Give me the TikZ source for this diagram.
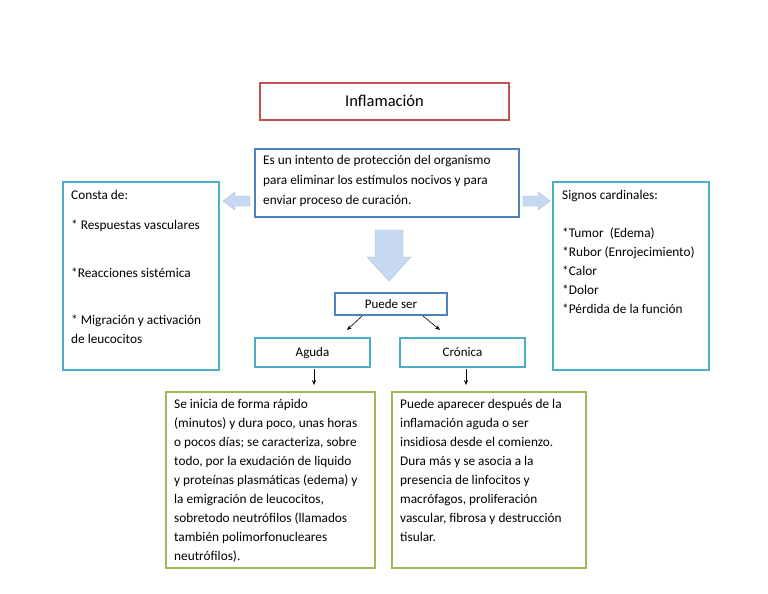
\documentclass[tikz,border=0pt]{standalone}
\usepackage{fontspec}
\setmainfont{Carlito}
\usetikzlibrary{arrows.meta,shapes.arrows}
\definecolor{cred}{HTML}{C0504D}
\definecolor{cblue}{HTML}{4F81BD}
\definecolor{cteal}{HTML}{4BACC6}
\definecolor{cgreen}{HTML}{9BBB59}
\definecolor{carrow}{HTML}{C6D9F1}
\definecolor{carrowd}{HTML}{A7BFDE}
\begin{document}
\begin{tikzpicture}[x=1pt,y=-1pt,
  box/.style={line width=2pt,fill=white},
  txt/.style={font=\fontsize{13.3}{19}\selectfont,align=left,inner sep=0pt},
  sm/.style={-{Stealth[length=5pt,width=4pt]},line width=0.6pt}]
\useasboundingbox (0,0) rectangle (768,594);
\fill[white] (0,0) rectangle (768,594);
\draw[box,draw=cred] (260,83) rectangle (509,120);
\node (t) at (384.5,101) {\fontsize{16.5}{18}\selectfont Inflamación};
\draw[box,draw=cblue] (255,149) rectangle (519,217);
\node[txt,anchor=north west,font=\fontsize{13.3}{20}\selectfont] (intro) at (263,155) {Es un intento de protección del organismo\\para eliminar los estímulos nocivos y para\\enviar proceso de curación.};
\draw[box,draw=cteal] (63,182) rectangle (219,370);
\node[txt,anchor=west] (l1) at (71,195) {Consta de:};
\node[txt,anchor=west] (l2) at (71,226) {* Respuestas vasculares};
\node[txt,anchor=west] (l3) at (71,273) {*Reacciones sistémica};
\node[txt,anchor=north west] (l4) at (71,315) {* Migración y activación\\de leucocitos};
\draw[box,draw=cteal] (553,182) rectangle (709,370);
\node[txt,anchor=west] (r1) at (562,196) {Signos cardinales:};
\node[txt,anchor=north west] (r2) at (562,228) {*Tumor\ \ (Edema)\\*Rubor (Enrojecimiento)\\*Calor\\*Dolor\\*Pérdida de la función};
% block arrows
\draw[fill=carrow,draw=carrowd] (250,196) -- (235,196) -- (235,192) -- (223,201) -- (235,210) -- (235,206) -- (250,206) -- cycle;
\draw[fill=carrow,draw=carrowd] (523,196) -- (538,196) -- (538,192) -- (550,201) -- (538,210) -- (538,206) -- (523,206) -- cycle;
\draw[fill=carrow,draw=carrowd] (375,230) -- (403,230) -- (403,257) -- (411,257) -- (389,281) -- (367,257) -- (375,257) -- cycle;
\draw[box,draw=cblue] (335,293) rectangle (447,315);
\node (ps) at (391,304) {\fontsize{13}{14}\selectfont Puede ser};
\draw[box,draw=cteal] (255,338) rectangle (370,367);
\node (ag) at (312.5,353) {\fontsize{13}{14}\selectfont Aguda};
\draw[box,draw=cteal] (400,338) rectangle (525,367);
\node (cr) at (462.5,352) {\fontsize{13}{14}\selectfont Crónica};
\coordinate (p1) at (362,316); \coordinate (p1e) at (347,330);
\coordinate (p2) at (423,316); \coordinate (p2e) at (440,330);
\draw[sm] (p1) -- (p1e);
\draw[sm] (p2) -- (p2e);
\coordinate (a1) at (314,369); \coordinate (a1e) at (314,385);
\coordinate (c1) at (466,369); \coordinate (c1e) at (466,385);
\draw[sm] (a1) -- (a1e);
\draw[sm] (c1) -- (c1e);
\draw[box,draw=cgreen] (166,392) rectangle (375,568);
\node[txt,anchor=north west] (agt) at (174,399) {Se inicia de forma rápido\\(minutos) y dura poco, unas horas\\o pocos días; se caracteriza, sobre\\todo, por la exudación de liquido\\y proteínas plasmáticas (edema) y\\la emigración de leucocitos,\\sobretodo neutrófilos (llamados\\también polimorfonucleares\\neutrófilos).};
\draw[box,draw=cgreen] (392,392) rectangle (586,568);
\node[txt,anchor=north west] (crt) at (400,399) {Puede aparecer después de la\\inflamación aguda o ser\\insidiosa desde el comienzo.\\Dura más y se asocia a la\\presencia de linfocitos y\\macrófagos, proliferación\\vascular, fibrosa y destrucción\\tisular.};
\end{tikzpicture}
\end{document}
